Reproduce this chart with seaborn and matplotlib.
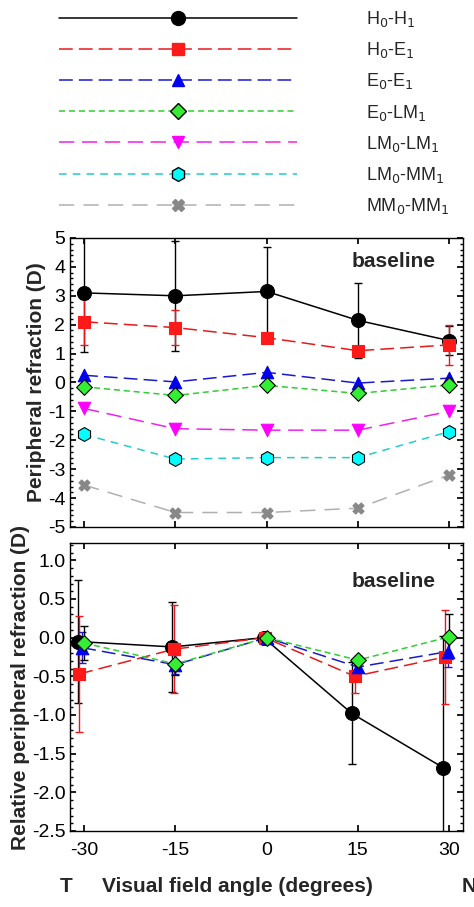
import numpy as np
import matplotlib
matplotlib.use("Agg")
import matplotlib.pyplot as plt
import seaborn as sns
from matplotlib.lines import Line2D

angles = [-30, -15, 0, 15, 30]
labels = [r"H$_0$-H$_1$", r"H$_0$-E$_1$", r"E$_0$-E$_1$", r"E$_0$-LM$_1$",
          r"LM$_0$-LM$_1$", r"LM$_0$-MM$_1$", r"MM$_0$-MM$_1$"]

# top panel: peripheral refraction
top_vals = [
    [3.1, 3.0, 3.15, 2.15, 1.45],
    [2.1, 1.9, 1.55, 1.1, 1.3],
    [0.25, 0.02, 0.35, -0.02, 0.15],
    [-0.15, -0.45, -0.1, -0.38, -0.08],
    [-0.9, -1.6, -1.65, -1.65, -1.0],
    [-1.8, -2.65, -2.6, -2.6, -1.7],
    [-3.55, -4.5, -4.5, -4.35, -3.2],
]
top_err = {0: [2.05, 1.9, 1.55, 1.3, 0.5], 1: [0.8, 0.6, 0.0, 0.0, 0.7]}

# bottom panel: relative peripheral refraction (4 series, slightly offset x)
bot_x = [
    [-31, -15.5, -0.5, 14, 29],
    [-30.8, -15.3, -0.3, 14.5, 29.3],
    [-30.3, -15, 0, 15, 29.8],
    [-30, -15, 0, 15, 30],
]
bot_vals = [
    [-0.05, -0.12, 0.0, -0.98, -1.68],
    [-0.47, -0.15, 0.0, -0.5, -0.25],
    [-0.13, -0.35, 0.0, -0.38, -0.18],
    [-0.07, -0.34, 0.0, -0.29, 0.01],
]
bot_err = [
    [0.8, 0.58, 0.0, 0.66, 1.7],
    [0.75, 0.57, 0.05, 0.22, 0.61],
    [0.2, 0.12, 0.0, 0.05, 0.2],
    [0.22, 0.14, 0.0, 0.05, 0.29],
]

styles = [
    dict(color="black", mfc="black", marker="o", dashes=(None, None), ms=10),
    dict(color="#e8191c", mfc="#ff1a1a", marker="s", dashes=(9, 4), ms=9),
    dict(color="#1a1acc", mfc="#0000ee", marker="^", dashes=(9, 4), ms=9),
    dict(color="#33cc33", mfc="#33ee33", marker="D", dashes=(4, 2.5), ms=8),
    dict(color="#ee22ee", mfc="#ff00ff", marker="v", dashes=(10, 5), ms=9),
    dict(color="#22cccc", mfc="#00ffff", marker="h", dashes=(5, 4), ms=10),
    dict(color="#b0b0b0", mfc="#888888", marker="X", dashes=(10, 6), ms=8),
]
errcolors = ["black", "#e8191c", "#1a1acc", "black"]

sns.set_theme(style="ticks")
plt.rcParams["font.family"] = ["Liberation Sans", "DejaVu Sans"]
plt.rcParams["axes.unicode_minus"] = False
plt.rcParams["axes.edgecolor"] = "black"
plt.rcParams["xtick.color"] = "black"
plt.rcParams["ytick.color"] = "black"

fig = plt.figure(figsize=(4.74, 9.07), dpi=100)
ax1 = fig.add_axes([0.148, 0.419, 0.829, 0.3186])
ax2 = fig.add_axes([0.148, 0.0838, 0.829, 0.3172])


def draw(ax, x, y, st, err=None, ecol="black"):
    if err is not None:
        ax.errorbar(x, y, yerr=err, fmt="none", ecolor=ecol, elinewidth=1,
                    capsize=3, capthick=1, zorder=2)
    line = ax.plot(x, y, color=st["color"], lw=1.1, zorder=3)[0]
    if st["dashes"][0] is not None:
        line.set_dashes(st["dashes"])
    ec = "black" if st["marker"] in ("D", "h") else st["mfc"]
    sns.scatterplot(x=x, y=y, ax=ax, marker=st["marker"], color=st["mfc"],
                    edgecolor=ec, linewidth=0.8, s=st["ms"] ** 2, zorder=4)


for i, vals in enumerate(top_vals):
    draw(ax1, angles, vals, styles[i], top_err.get(i), errcolors[min(i, 3)])
for i, vals in enumerate(bot_vals):
    draw(ax2, bot_x[i], vals, styles[i], bot_err[i], errcolors[i])

for ax in (ax1, ax2):
    ax.set_xlim(-32.3, 32.3)
    ax.set_xticks(angles)
    ax.tick_params(direction="in", top=True, right=True, length=4, labelsize=14)
    ax.minorticks_on()
    ax.tick_params(which="minor", direction="in", top=False, bottom=False,
                   right=True, left=True, length=2)
    for s in ax.spines.values():
        s.set_linewidth(1)
        s.set_color("black")
    ax.text(0.93, 0.95 if ax is ax1 else 0.9, "baseline", transform=ax.transAxes,
            ha="right", va="top", fontsize=15, fontweight="bold")

ax1.set_ylim(-5, 5)
ax1.set_yticks(range(-5, 6))
ax1.set_xticklabels([])
ax1.set_ylabel("Peripheral refraction (D)", fontsize=15, fontweight="bold", labelpad=1)
ax2.set_ylim(-2.5, 1.22)
ax2.set_yticks(np.arange(-2.5, 1.01, 0.5))
ax2.set_yticklabels([f"{v:.1f}" for v in np.arange(-2.5, 1.01, 0.5)])
ax2.set_ylabel("Relative peripheral refraction (D)", fontsize=15, fontweight="bold", labelpad=1)
ax2.tick_params(axis="x", pad=8)

fig.text(0.14, 0.016, "T", fontsize=15, fontweight="bold", ha="center")
fig.text(0.5, 0.016, "Visual field angle (degrees)", fontsize=15, fontweight="bold", ha="center")
fig.text(0.99, 0.016, "N", fontsize=15, fontweight="bold", ha="center")

handles = []
for st in styles:
    ec = "black" if st["marker"] in ("D", "h") else st["mfc"]
    h = Line2D([], [], color=st["color"], lw=1.1, marker=st["marker"], ms=st["ms"],
               mfc=st["mfc"], mec=ec)
    if st["dashes"][0] is not None:
        h.set_dashes(st["dashes"])
    handles.append(h)
fig.legend(handles, labels, loc="upper left", bbox_to_anchor=(0.09, 1.008),
           frameon=False, fontsize=13, numpoints=1, handlelength=13.2,
           handletextpad=3.8, labelspacing=0.62)

fig.savefig("out.png", dpi=100)
